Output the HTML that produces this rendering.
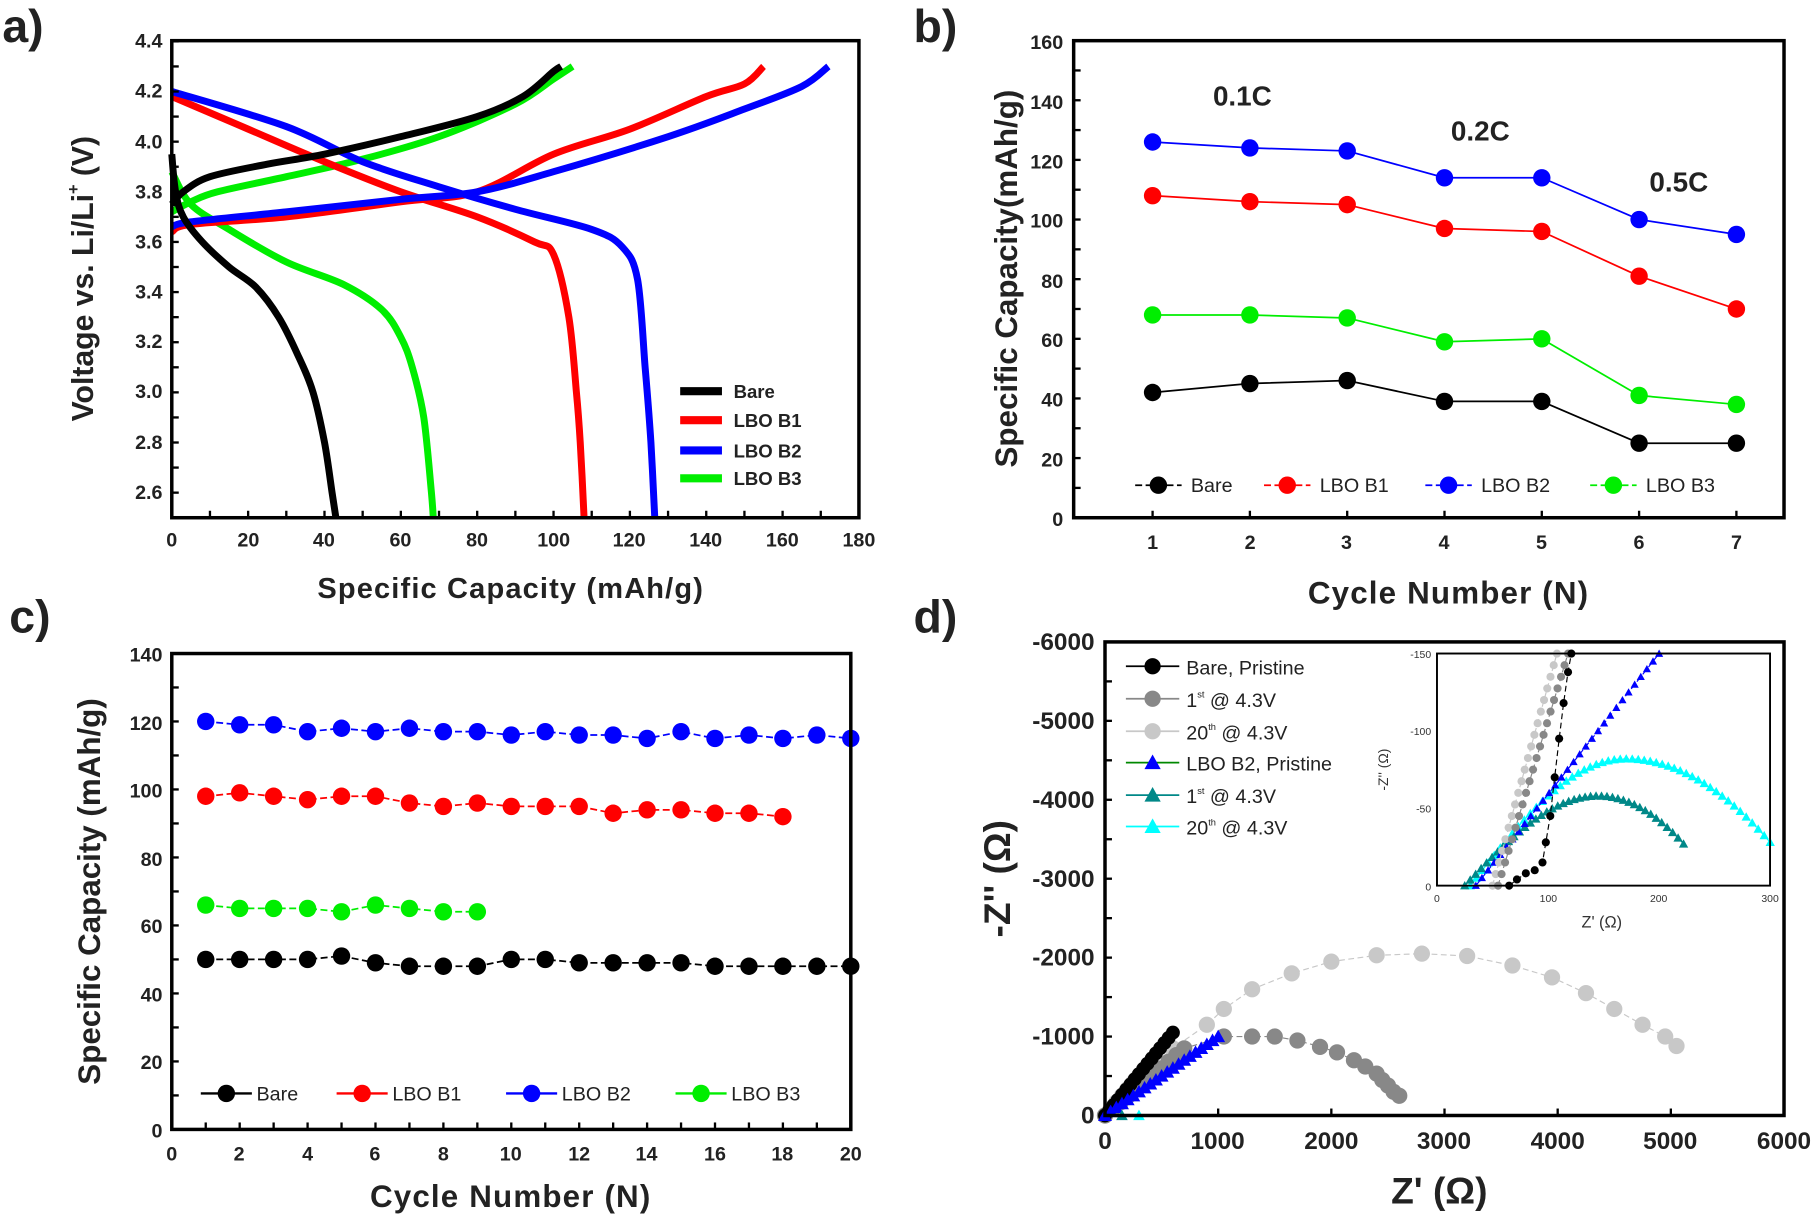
<!DOCTYPE html>
<html><head><meta charset="utf-8"><style>
html,body{margin:0;padding:0;background:#fff;}
svg{display:block;font-family:"Liberation Sans",Arial,sans-serif;}
.t{font-size:17px;font-weight:bold;fill:#222;}
.lab{font-weight:bold;fill:#222;}
</style></head><body>
<svg id="s" width="1820" height="1220" viewBox="0 0 1568 1051" xmlns="http://www.w3.org/2000/svg">
<rect width="1568" height="1051" fill="#fff"/>
<text x="2" y="36" font-size="40" class="lab">a)</text>
<text x="787" y="36" font-size="40" class="lab">b)</text>
<text x="8" y="545" font-size="40" class="lab">c)</text>
<text x="787" y="545" font-size="40" class="lab">d)</text>

<!-- Panel a -->
<g id="pa"></g>
<rect x="148" y="35" width="592" height="411" fill="none" stroke="#000" stroke-width="3"/>
<g class="t" text-anchor="end">
<text x="140" y="41">4.4</text><text x="140" y="84">4.2</text><text x="140" y="128">4.0</text>
<text x="140" y="171">3.8</text><text x="140" y="214">3.6</text><text x="140" y="257">3.4</text>
<text x="140" y="300">3.2</text><text x="140" y="343">3.0</text><text x="140" y="387">2.8</text>
<text x="140" y="430">2.6</text></g>
<g class="t" text-anchor="middle">
<text x="148" y="471">0</text><text x="214" y="471">20</text><text x="279" y="471">40</text>
<text x="345" y="471">60</text><text x="411" y="471">80</text><text x="477" y="471">100</text>
<text x="542" y="471">120</text><text x="608" y="471">140</text><text x="674" y="471">160</text><text x="740" y="471">180</text></g>
<text x="440" y="515" font-size="25" class="lab" text-anchor="middle" letter-spacing="1">Specific Capacity (mAh/g)</text>
<text transform="translate(80,240) rotate(-90)" font-size="26" class="lab" text-anchor="middle">Voltage vs. Li/Li<tspan font-size="14" dy="-12">+</tspan><tspan dy="12"> (V)</tspan></text>
<g font-size="16" fill="#222" font-weight="bold">
<line x1="586" y1="337" x2="622" y2="337" stroke="#000" stroke-width="7"/><text x="632" y="343">Bare</text>
<line x1="586" y1="362" x2="622" y2="362" stroke="#f00" stroke-width="7"/><text x="632" y="368">LBO B1</text>
<line x1="586" y1="388" x2="622" y2="388" stroke="#00f" stroke-width="7"/><text x="632" y="394">LBO B2</text>
<line x1="586" y1="412" x2="622" y2="412" stroke="#0e0" stroke-width="7"/><text x="632" y="418">LBO B3</text>
</g>

<!-- Panel b -->
<g id="pb"></g>
<rect x="925" y="35" width="612" height="411" fill="none" stroke="#000" stroke-width="3"/>
<g class="t" text-anchor="end">
<text x="916" y="42">160</text><text x="916" y="94">140</text><text x="916" y="145">120</text>
<text x="916" y="196">100</text><text x="916" y="248">80</text><text x="916" y="299">60</text>
<text x="916" y="350">40</text><text x="916" y="402">20</text><text x="916" y="453">0</text></g>
<g class="t" text-anchor="middle">
<text x="993" y="473">1</text><text x="1077" y="473">2</text><text x="1160" y="473">3</text>
<text x="1244" y="473">4</text><text x="1328" y="473">5</text><text x="1412" y="473">6</text><text x="1496" y="473">7</text></g>
<text x="1248" y="520" font-size="27" class="lab" text-anchor="middle" letter-spacing="1">Cycle Number (N)</text>
<text transform="translate(876,240) rotate(-90)" font-size="27" class="lab" text-anchor="middle">Specific Capacity(mAh/g)</text>
<text x="1045" y="91" font-size="24" class="lab">0.1C</text>
<text x="1250" y="121" font-size="24" class="lab">0.2C</text>
<text x="1421" y="165" font-size="24" class="lab">0.5C</text>

<!-- Panel c -->
<g id="pc"></g>
<rect x="148" y="563" width="585" height="410" fill="none" stroke="#000" stroke-width="3"/>
<g class="t" text-anchor="end">
<text x="140" y="570">140</text><text x="140" y="629">120</text><text x="140" y="687">100</text>
<text x="140" y="746">80</text><text x="140" y="804">60</text><text x="140" y="863">40</text>
<text x="140" y="921">20</text><text x="140" y="980">0</text></g>
<g class="t" text-anchor="middle">
<text x="148" y="1000">0</text><text x="206" y="1000">2</text><text x="265" y="1000">4</text>
<text x="323" y="1000">6</text><text x="382" y="1000">8</text><text x="440" y="1000">10</text>
<text x="499" y="1000">12</text><text x="557" y="1000">14</text><text x="616" y="1000">16</text>
<text x="674" y="1000">18</text><text x="733" y="1000">20</text></g>
<text x="440" y="1040" font-size="27" class="lab" text-anchor="middle" letter-spacing="1">Cycle Number (N)</text>
<text transform="translate(86,768) rotate(-90)" font-size="27" class="lab" text-anchor="middle">Specific Capacity (mAh/g)</text>

<!-- Panel d -->
<g id="pd"></g>
<rect x="952" y="553" width="585" height="408" fill="none" stroke="#000" stroke-width="3"/>
<g font-size="21" font-weight="bold" fill="#222" text-anchor="end">
<text x="943" y="560">-6000</text><text x="943" y="628">-5000</text><text x="943" y="696">-4000</text>
<text x="943" y="764">-3000</text><text x="943" y="832">-2000</text><text x="943" y="900">-1000</text><text x="943" y="968">0</text></g>
<g font-size="21" font-weight="bold" fill="#222" text-anchor="middle">
<text x="952" y="990">0</text><text x="1049" y="990">1000</text><text x="1147" y="990">2000</text>
<text x="1244" y="990">3000</text><text x="1342" y="990">4000</text><text x="1439" y="990">5000</text><text x="1537" y="990">6000</text></g>
<text x="1240" y="1037" font-size="32" class="lab" text-anchor="middle">Z' (Ω)</text>
<text transform="translate(870,757) rotate(-90)" font-size="32" class="lab" text-anchor="middle">-Z'' (Ω)</text>
<g font-size="17" fill="#222">
<text x="1022" y="581">Bare, Pristine</text>
<text x="1022" y="609">1<tspan font-size="8" dy="-8">st</tspan><tspan dy="8"> @ 4.3V</tspan></text>
<text x="1022" y="637">20<tspan font-size="8" dy="-8">th</tspan><tspan dy="8"> @ 4.3V</tspan></text>
<text x="1022" y="664">LBO B2, Pristine</text>
<text x="1022" y="692">1<tspan font-size="8" dy="-8">st</tspan><tspan dy="8"> @ 4.3V</tspan></text>
<text x="1022" y="719">20<tspan font-size="8" dy="-8">th</tspan><tspan dy="8"> @ 4.3V</tspan></text>
</g>
<g id="leg"></g>
<rect x="1238" y="563" width="287" height="200" fill="#fff" stroke="#000" stroke-width="1.5"/>
<g id="ins"></g>
<rect x="1238" y="563" width="287" height="200" fill="none" stroke="#000" stroke-width="1.5"/>
<g font-size="9" fill="#333" text-anchor="end">
<text x="1233" y="567">-150</text><text x="1233" y="633">-100</text><text x="1233" y="700">-50</text><text x="1233" y="767">0</text></g>
<g font-size="9" fill="#333" text-anchor="middle">
<text x="1238" y="777">0</text><text x="1334" y="777">100</text><text x="1429" y="777">200</text><text x="1525" y="777">300</text></g>
<text x="1380" y="799" font-size="14" fill="#333" text-anchor="middle">Z' (Ω)</text>
<text transform="translate(1196,663) rotate(-90)" font-size="12" fill="#333" text-anchor="middle">-Z'' (Ω)</text>
</svg>
<script>
var NS="http://www.w3.org/2000/svg";
function el(p,t,a){var e=document.createElementNS(NS,t);for(var k in a)e.setAttribute(k,a[k]);document.getElementById(p).appendChild(e);return e;}
function poly(p,pts,c,w,dash){el(p,"polyline",{points:pts.map(function(q){return q[0].toFixed(1)+","+q[1].toFixed(1)}).join(" "),fill:"none",stroke:c,"stroke-width":w,"stroke-linejoin":"round","stroke-dasharray":dash||""});}
function smooth(p,pts,c,w){var d="M"+pts[0][0].toFixed(1)+","+pts[0][1].toFixed(1);for(var i=0;i<pts.length-1;i++){var p0=pts[i>0?i-1:i],p1=pts[i],p2=pts[i+1],p3=pts[i+2<pts.length?i+2:i+1];var c1=[p1[0]+(p2[0]-p0[0])/6,p1[1]+(p2[1]-p0[1])/6],c2=[p2[0]-(p3[0]-p1[0])/6,p2[1]-(p3[1]-p1[1])/6];d+=" C"+c1[0].toFixed(1)+","+c1[1].toFixed(1)+" "+c2[0].toFixed(1)+","+c2[1].toFixed(1)+" "+p2[0].toFixed(1)+","+p2[1].toFixed(1);}el(p,"path",{d:d,fill:"none",stroke:c,"stroke-width":w,"stroke-linejoin":"round"});}
function dot(p,x,y,r,c){el(p,"circle",{cx:x,cy:y,r:r,fill:c});}
function tri(p,x,y,r,c){el(p,"polygon",{points:(x)+","+(y-r)+" "+(x-r)+","+(y+r*0.8)+" "+(x+r)+","+(y+r*0.8),fill:c});}
function ticks(p,x0,y0,x1,y1,xs,ys){xs.forEach(function(x){el(p,"line",{x1:x,y1:y1,x2:x,y2:y1-6,stroke:"#000","stroke-width":2});});ys.forEach(function(y){el(p,"line",{x1:x0,y1:y,x2:x0+6,y2:y,stroke:"#000","stroke-width":2});});}
var ax=function(v){return 148+v*3.289}, ay=function(v){return 446-(v-2.5)*216};
var A=[
["#0e0",[[0,3.88],[5,3.75],[15,3.65],[30,3.52],[45,3.43],[55,3.33],[60,3.22],[63,3.1],[66,2.9],[68,2.6],[68.5,2.5]]],
["#0e0",[[0,3.72],[5,3.76],[12,3.8],[30,3.86],[50,3.93],[70,4.02],[90,4.15],[100,4.25],[105,4.3]]],
["#f00",[[0,4.18],[20,4.05],[40,3.92],[60,3.8],[80,3.7],[95,3.6],[100,3.55],[104,3.3],[106,3.0],[107,2.8],[108,2.5]]],
["#f00",[[0,3.64],[5,3.67],[30,3.7],[60,3.76],[80,3.8],[100,3.95],[120,4.05],[140,4.18],[150,4.23],[155,4.3]]],
["#00f",[[0,4.2],[30,4.06],[50,3.92],[70,3.82],[90,3.73],[110,3.65],[118,3.58],[122,3.45],[124,3.1],[125.5,2.8],[126.5,2.5]]],
["#00f",[[0,3.66],[5,3.68],[30,3.72],[60,3.77],[80,3.8],[100,3.88],[130,4.02],[150,4.13],[165,4.22],[172,4.3]]],
["#000",[[0,3.95],[1,3.8],[3,3.7],[8,3.6],[15,3.5],[22,3.42],[28,3.3],[33,3.15],[37,3.0],[40,2.8],[42,2.6],[43,2.5]]],
["#000",[[0,3.75],[3,3.8],[10,3.86],[25,3.91],[40,3.95],[60,4.02],[80,4.1],[92,4.18],[100,4.28],[102,4.3]]]];
A.forEach(function(s){smooth("pa",s[1].map(function(q){return [ax(q[0]),ay(q[1])]}),s[0],6);});
var xt=[],yt=[];for(var i=0;i<=18;i++)xt.push(ax(i*10));for(var v=2.5;v<4.41;v+=0.1)yt.push(ay(v));
ticks("pa",148,35,740,446,xt,yt);
var bx=function(n){return 993+(n-1)*83.83},by=function(v){return 446-v*2.569};
var B=[["#000",[42,45,46,39,39,25,25]],["#0e0",[68,68,67,59,60,41,38]],["#f00",[108,106,105,97,96,81,70]],["#00f",[126,124,123,114,114,100,95]]];
B.forEach(function(s){var p=s[1].map(function(v,i){return [bx(i+1),by(v)]});poly("pb",p,s[0],1.5);p.forEach(function(q){dot("pb",q[0],q[1],7.5,s[0]);});});
xt=[];for(i=1;i<=7;i++)xt.push(bx(i));yt=[];for(v=0;v<=160;v+=10)yt.push(by(v));
ticks("pb",925,35,1537,446,xt,yt);
[["#000",998,"Bare"],["#f00",1109,"LBO B1"],["#00f",1248,"LBO B2"],["#0e0",1390,"LBO B3"]].forEach(function(l){poly("pb",[[l[1]-20,418],[l[1]+20,418]],l[0],1.5,"6,3");dot("pb",l[1],418,7.5,l[0]);var t=el("pb","text",{x:l[1]+28,y:424,"font-size":17,fill:"#222"});t.textContent=l[2];});
var cx=function(n){return 148+n*29.25},cy=function(v){return 973-v*2.929};
var C=[["#000",[50,50,50,50,51,49,48,48,48,50,50,49,49,49,49,48,48,48,48,48]],["#0e0",[66,65,65,65,64,66,65,64,64]],["#f00",[98,99,98,97,98,98,96,95,96,95,95,95,93,94,94,93,93,92]],["#00f",[120,119,119,117,118,117,118,117,117,116,117,116,116,115,117,115,116,115,116,115]]];
C.forEach(function(s){var p=s[1].map(function(v,i){return [cx(i+1),cy(v)]});poly("pc",p,s[0],1.5,"6,3");p.forEach(function(q){dot("pc",q[0],q[1],7.5,s[0]);});});
xt=[];for(i=0;i<=20;i++)xt.push(cx(i));yt=[];for(v=0;v<=140;v+=10)yt.push(cy(v));
ticks("pc",148,563,733,973,xt,yt);
[["#000",195,"Bare"],["#f00",312,"LBO B1"],["#00f",458,"LBO B2"],["#0e0",604,"LBO B3"]].forEach(function(l){poly("pc",[[l[1]-22,942],[l[1]+22,942]],l[0],2);dot("pc",l[1],942,7.5,l[0]);var t=el("pc","text",{x:l[1]+26,y:948,"font-size":17,fill:"#222"});t.textContent=l[2];});
var dx=function(v){return 952+v*0.0975},dy=function(v){return 961+v*0.068};
function ser(p,pts,c,r,shape,fx,fy,dash){var q=pts.map(function(a){return [fx(a[0]),fy(a[1])]});poly(p,q,c,1,dash||"5,3");q.forEach(function(a){shape=="t"?tri(p,a[0],a[1],r,c):dot(p,a[0],a[1],r,c);});}
function lin(a,b,n){var r=[];for(var i=0;i<=n;i++)r.push([a[0]+(b[0]-a[0])*i/n,a[1]+(b[1]-a[1])*i/n]);return r;}
ser("pd",[[300,-500],[600,-850],[900,-1150],[1050,-1350],[1300,-1600],[1650,-1800],[2000,-1950],[2400,-2030],[2800,-2050],[3200,-2020],[3600,-1900],[3950,-1750],[4250,-1550],[4500,-1350],[4750,-1150],[4950,-1000],[5050,-880]].concat().reverse().concat(lin([300,-500],[0,0],6)),"#c8c8c8",7,"c",dx,dy);
ser("pd",lin([0,0],[700,-850],10).concat([[1050,-1000],[1300,-1000],[1500,-1000],[1700,-950],[1900,-870],[2050,-800],[2200,-700],[2300,-620],[2400,-530],[2450,-450],[2500,-380],[2550,-300],[2600,-250]]),"#888",7,"c",dx,dy);
ser("pd",lin([0,0],[600,-1050],16),"#000",6,"c",dx,dy);
ser("pd",lin([0,0],[1000,-1000],20),"#00f",6,"t",dx,dy,"");
tri("pd",dx(300),dy(0),5,"#0ff");tri("pd",dx(150),dy(0),5,"#088");
[["#000","c",574],["#888","c",602],["#c8c8c8","c",630],["#00f","t",657],["#088","t",685],["#0ff","t",712]].forEach(function(l,i){poly("leg",[[970,l[2]],[1016,l[2]]],i==3?"#080":l[0],1.5);l[1]=="t"?tri("leg",993,l[2],7,l[0]):dot("leg",993,l[2],7,l[0]);});
var ix=function(v){return 1238+v*0.957},iy=function(v){return 763+v*1.333};
function arc(x0,xp,yp,x1,y1,n){var r=[];for(var i=0;i<=n;i++){var x=x0+(x1-x0)*i/n;var t;var y;if(x<=xp){t=(x-x0)/(xp-x0);y=yp*Math.sin(t*Math.PI/2);}else{t=(x-xp)/(x1-xp);y=yp+(y1-yp)*t*t;}r.push([x,y]);}return r;}
ser("ins",arc(30,170,-82,300,-28,50),"#0ff",4,"t",ix,iy,"");
ser("ins",arc(25,145,-58,222,-27,40),"#088",4,"t",ix,iy,"");
ser("ins",lin([35,0],[200,-150],30),"#00f",3.5,"t",ix,iy,"");
ser("ins",lin([50,0],[108,-150],20),"#c8c8c8",3.5,"c",ix,iy,"");
ser("ins",lin([55,0],[118,-150],20),"#888",3.5,"c",ix,iy,"");
ser("ins",[[65,0],[72,-4],[80,-8],[88,-10],[95,-15],[98,-28],[102,-45],[106,-70],[110,-95],[114,-118],[118,-138],[121,-150]],"#000",3.5,"c",ix,iy,"");
xt=[];for(i=0;i<=6;i++)xt.push(dx(i*1000));yt=[];for(v=0;v<=6000;v+=500)yt.push(dy(-v));
ticks("pd",952,553,1537,961,xt,yt);
</script>
</body></html>
